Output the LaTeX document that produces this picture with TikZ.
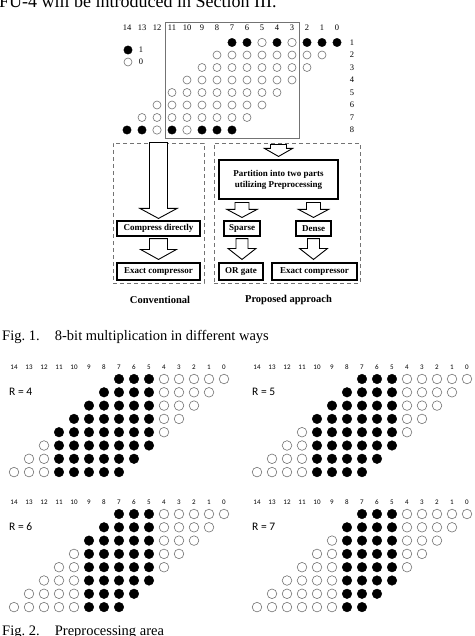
\documentclass[tikz,border=0pt]{standalone}
\usepackage{fontspec}
\setmainfont{Liberation Serif}
\newfontfamily\calibri{Carlito}
\usetikzlibrary{calc}

\tikzset{
  bit1/.style={fill=black, draw=black, line width=0.4pt},
  bit0/.style={fill=white, draw=black!55, line width=0.6pt},
  stepbox/.style={draw, line width=1.1pt, inner sep=0pt, align=center,
    font=\fontsize{9}{11}\selectfont\bfseries},
  halfbox/.style={draw=black!55, dash pattern=on 4pt off 3pt, line width=0.9pt, inner sep=0pt},
  hollow/.style={draw, fill=white, line width=0.9pt, line join=miter},
  serifnum/.style={font=\fontsize{8.5}{9}\selectfont, inner sep=0pt},
  sansnum/.style={font=\calibri\fontsize{7}{8}\selectfont, inner sep=0pt},
}

% hollow block arrow: from, to, shaft half width, head half width, head length
\newcommand{\hollowarrow}[5]{%
  \draw[hollow] let \p1=(#1), \p2=(#2) in
    (\x1-#3pt,\y1) -- (\x1+#3pt,\y1) -- (\x1+#3pt,\y2+#5pt) -- (\x1+#4pt,\y2+#5pt)
    -- (\x1,\y2) -- (\x1-#4pt,\y2+#5pt) -- (\x1-#3pt,\y2+#5pt) -- cycle;}

\begin{document}
\begin{tikzpicture}[x=1pt,y=-1pt]
  \useasboundingbox (0,0) rectangle (474,636);
  \clip (0,0) rectangle (474,636);

  % running text and first caption
  \node[anchor=base west, inner sep=0pt, font=\fontsize{18}{20}\selectfont] (prevline) at (-1,7.5)
    {FU-4 will be introduced in Section III.};
  \node[anchor=base west, inner sep=0pt, font=\fontsize{14.5}{16}\selectfont] (caption1) at (2,340)
    {Fig.~1.\hspace{1.05em}8-bit multiplication in different ways};

  % first figure: partial products
  \foreach \k in {0,...,14}
    \node[serifnum] (col\k) at ({337-15*\k},28) {\k};
  \foreach \r in {1,...,8}
    \node[serifnum] (row\r) at (352,{30+12.5*\r}) {\r};
  \draw[black!55, line width=0.9pt] (165,22) rectangle (299,138);
  \foreach \b [count=\k from 0] in {1,1,1,0,1,0,1,1}{
    \draw[bit\b] ({337-15*\k},42.5) circle (4.2);
    \draw[bit\b] ({337-15*(\k+7)},130) circle (4.2);
  }
  \foreach \r in {2,...,7}
    \foreach \k in {0,...,7}
      \draw[bit0] ({337-15*(\r-1+\k)},{30+12.5*\r}) circle (4);
  % legend
  \draw[bit1] (128,50) circle (4.2);
  \node[serifnum] (one) at (141,50) {1};
  \draw[bit0] (128,62) circle (4);
  \node[serifnum] (zero) at (141,62) {0};

  % first figure: two ways
  \node[halfbox, minimum width=91, minimum height=140] (conv) at (158.5,213) {};
  \node[halfbox, minimum width=146, minimum height=140] (prop) at (287,213) {};
  \node[stepbox, minimum width=119, minimum height=39] (partition) at (278.5,179.5)
    {Partition into two parts\\utilizing Preprocessing};
  \node[stepbox, minimum width=83, minimum height=15] (compress) at (158.5,228.5) {Compress directly};
  \node[stepbox, minimum width=36, minimum height=15] (sparse) at (242,228.5) {Sparse};
  \node[stepbox, minimum width=35, minimum height=15] (dense) at (313.5,228.5) {Dense};
  \node[stepbox, minimum width=83, minimum height=17] (exactL) at (158.5,271.5) {Exact compressor};
  \node[stepbox, minimum width=44, minimum height=17] (orgate) at (241,271.5) {OR gate};
  \node[stepbox, minimum width=85, minimum height=17] (exactR) at (314.5,271.5) {Exact compressor};
  \node[font=\fontsize{10.5}{12}\selectfont\bfseries] (convlabel) at (160,300) {Conventional};
  \node[font=\fontsize{10.5}{12}\selectfont\bfseries] (proplabel) at (288.5,300) {Proposed approach};

  \hollowarrow{conv.north}{[yshift=2pt]compress.north}{9}{18.5}{10}
  \hollowarrow{[yshift=-2pt]partition.north |- prop.north}{[yshift=3pt]partition.north}{8}{14}{8}
  \hollowarrow{[yshift=-3pt]sparse.north |- partition.south}{[yshift=3pt]sparse.north}{7}{15}{8}
  \hollowarrow{[yshift=-3pt]dense.north |- partition.south}{[yshift=3pt]dense.north}{7}{15}{8}
  \hollowarrow{[yshift=-2pt]compress.south}{[yshift=3pt]exactL.north}{9}{18}{10}
  \hollowarrow{[yshift=-2pt]sparse.south}{[yshift=3pt]sparse.south |- orgate.north}{6}{14}{11}
  \hollowarrow{[yshift=-2pt]dense.south}{[yshift=3pt]dense.south |- exactR.north}{6}{14}{11}

  % second figure: four preprocessing areas
  \foreach \R/\dx/\dy in {4/0/0, 5/243/0, 6/0/135, 7/243/135}{
    \begin{scope}[shift={(\dx,\dy)}]
      \pgfmathtruncatemacro\hi{15-\R}
      \foreach \k in {0,...,14}
        \node[sansnum] (lab\R-\k) at ({224-15*\k},367) {\k};
      \node[anchor=west, inner sep=0pt, font=\calibri\fontsize{11.5}{13}\selectfont] (area\R) at (9,392) {R = \R};
      \foreach \r in {1,...,8}
        \foreach \k in {0,...,7}{
          \pgfmathtruncatemacro\c{\r-1+\k}
          \ifnum\c<5 \def\s{bit0}\else\ifnum\c>\hi \def\s{bit0}\else\def\s{bit1}\fi\fi
          \draw[\s] ({224-15*\c},{365.7+13.3*\r}) circle (4.8);
        }
    \end{scope}
  }
  \node[anchor=base west, inner sep=0pt, font=\fontsize{14.5}{16}\selectfont] (caption2) at (2,635)
    {Fig.~2.\hspace{1.05em}Preprocessing area};
\end{tikzpicture}
\end{document}
